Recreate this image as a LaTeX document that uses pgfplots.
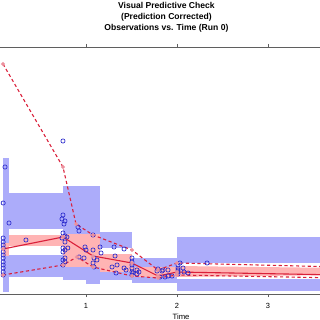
\documentclass[border=0pt]{standalone}
\usepackage{fontspec}
\setmainfont{Liberation Sans}
\usepackage{pgfplots}
\pgfplotsset{compat=1.18}

\definecolor{ciblue}{RGB}{172,172,250}
\definecolor{cipink}{RGB}{255,180,180}
\definecolor{obsred}{RGB}{218,32,58}
\definecolor{obsblue}{RGB}{45,45,205}
\definecolor{axgray}{RGB}{95,95,95}

% observed percentiles per bin (time, value)
\pgfplotstableread{
t    y
0.088 45
0.747 57
1.077 38
1.505 31
1.791 18
2.000 22
3.800 19
}\obsmedian
\pgfplotstableread{
t    y
0.088 230
0.747 127
0.890 70
1.077 59
1.505 44
1.791 24
2.000 31
3.800 27
}\obsupper
\pgfplotstableread{
t    y
0.088 19
0.747 29
0.900 37
1.077 27
1.505 18
1.791 16
2.000 19
3.800 16
}\obslower

% observations
\pgfplotstableread{
t y
0.09 56
0.09 52
0.09 49
0.09 46
0.09 42
0.09 39
0.09 36
0.09 32
0.09 29
0.09 26
0.09 22
0.09 19
0.09 91
0.11 127
0.154 71
0.34 54
0.747 153
0.747 79
0.736 75
0.758 70
0.769 73
0.747 61
0.769 58
0.79 57
0.736 56
0.769 52
0.747 46
0.769 44
0.80 46
0.747 42
0.769 36
0.747 34
0.769 32
0.747 29
0.912 67
0.923 63
1.077 59
0.989 47
1.154 47
1.308 47
1.418 45
1.0 44
1.077 44
1.165 41
1.319 38
0.923 37
0.978 36
1.088 36
1.12 34
1.077 31
1.088 27
1.341 29
1.286 27
1.418 26
1.44 24
1.33 21
1.505 36
1.505 32
1.505 29
1.505 26
1.505 22
1.505 19
1.516 21
1.582 22
1.56 20
1.56 24
1.78 23
1.791 25
1.835 23
1.813 17
1.868 17
1.901 18
1.945 18
1.846 24
1.901 24
2.011 29
2.011 26
2.011 24
2.011 22
2.011 20
2.033 31
2.066 26
2.077 22
2.121 21
2.33 31
}\obs

\begin{document}
\begin{tikzpicture}
\begin{axis}[
  scale only axis, width=320bp, height=247bp,
  at={(0,0)}, anchor=south west,
  xmin=0.055, xmax=3.571, ymin=0, ymax=247,
  separate axis lines,
  x axis line style={draw=axgray, line width=0.9bp},
  y axis line style={draw=none},
  ytick=\empty,
  xtick={1,2,3},
  tick align=outside,
  major tick length=3bp,
  tick style={axgray, line width=0.6bp},
  /pgf/number format/assume math mode=true,
  xticklabel style={font=\fontsize{7.5}{9}\selectfont, anchor=base, yshift=-11.5bp},
  xlabel={Time},
  xlabel style={font=\fontsize{7.7}{9}\selectfont, at={(0.566,0)}, anchor=base, yshift=-25bp},
  title={Visual Predictive Check\\(Prediction Corrected)\\Observations vs. Time (Run 0)},
  title style={font=\bfseries\fontsize{8.6}{11}\selectfont, align=center,
    at={(0.52,1)}, anchor=south, inner sep=0pt, yshift=8.5bp},
]
% confidence boxes for the outer percentiles
\addplot[fill=ciblue, draw=none] coordinates {(0.088,2) (0.154,2) (0.154,136) (0.088,136)} -- cycle;
\addplot[fill=ciblue, draw=none] coordinates {(0.154,65) (0.747,65) (0.747,101) (0.154,101)} -- cycle;
\addplot[fill=ciblue, draw=none] coordinates {(0.154,17) (0.747,17) (0.747,39) (0.154,39)} -- cycle;
\addplot[fill=ciblue, draw=none] coordinates {(0.747,14) (1.0,14) (1.0,108) (0.747,108)} -- cycle;
\addplot[fill=ciblue, draw=none] coordinates {(1.0,10) (1.154,10) (1.154,108) (1.0,108)} -- cycle;
\addplot[fill=ciblue, draw=none] coordinates {(1.154,46) (1.505,46) (1.505,62) (1.154,62)} -- cycle;
\addplot[fill=ciblue, draw=none] coordinates {(1.154,14) (1.505,14) (1.505,22) (1.154,22)} -- cycle;
\addplot[fill=ciblue, draw=none] coordinates {(1.505,11) (2.0,11) (2.0,36) (1.505,36)} -- cycle;
\addplot[fill=ciblue, draw=none] coordinates {(2.0,31) (4.0,31) (4.0,57) (2.0,57)} -- cycle;
\addplot[fill=ciblue, draw=none] coordinates {(2.0,3) (4.0,3) (4.0,15) (2.0,15)} -- cycle;
% confidence boxes for the median
\addplot[fill=cipink, draw=none] coordinates {(0.088,38) (0.154,38) (0.154,51) (0.088,51)} -- cycle;
\addplot[fill=cipink, draw=none] coordinates {(0.154,48) (0.747,48) (0.747,59) (0.154,59)} -- cycle;
\addplot[fill=cipink, draw=none] coordinates {(0.747,27) (1.154,27) (1.154,60) (0.747,60)} -- cycle;
\addplot[fill=cipink, draw=none] coordinates {(1.154,22) (1.505,22) (1.505,40) (1.154,40)} -- cycle;
\addplot[fill=cipink, draw=none] coordinates {(1.505,17) (2.0,17) (2.0,27) (1.505,27)} -- cycle;
\addplot[fill=cipink, draw=none] coordinates {(2.0,17) (3.8,19) (3.8,26) (2.0,28)} -- cycle;
% observations
\addplot[only marks, mark=o, mark size=2.1pt, obsblue, mark options={line width=0.7pt}] table {\obs};
% observed percentile lines
\addplot[obsred, line width=1.1bp, mark=*, mark size=1.4pt, mark options={fill=obsred, draw=obsred!45}] table {\obsmedian};
\addplot[obsred, line width=1.1bp, dash pattern=on 3.2bp off 2.6bp, mark=*, mark size=1.4pt, mark options={solid, fill=obsred, draw=obsred!45}] table {\obsupper};
\addplot[obsred, line width=1.1bp, dash pattern=on 3.2bp off 2.6bp, mark=*, mark size=1.4pt, mark options={solid, fill=obsred, draw=obsred!45}] table {\obslower};
\end{axis}
\pgfresetboundingbox
\path[use as bounding box] (0,-26bp) rectangle (320bp,294bp);
\end{tikzpicture}
\end{document}
